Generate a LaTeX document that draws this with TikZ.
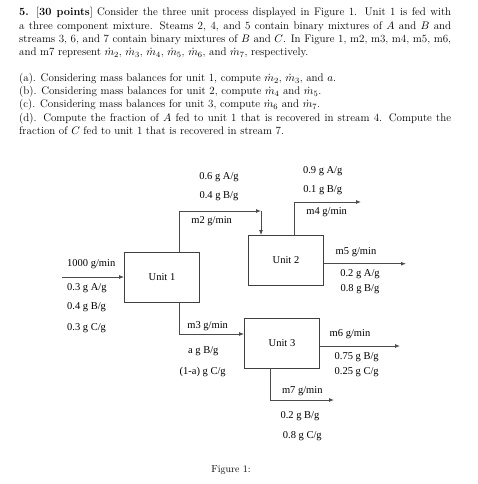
\documentclass[tikz,border=0pt]{standalone}
\usepackage{fontspec}
\newfontfamily\timesfont{Liberation Serif}
\usetikzlibrary{arrows.meta}

\begin{document}
\begin{tikzpicture}[x=1pt,y=-1pt,
    unitbox/.style={draw=black!75,line width=0.8pt,minimum width=75pt,minimum height=50pt,font=\timesfont\fontsize{10.5}{12}\selectfont},
    stream/.style={draw=black!70,line width=0.9pt,-{Latex[length=5pt,width=4pt]}},
    lbl/.style={font=\timesfont\fontsize{10.5}{12}\selectfont,inner sep=0pt}]
    \useasboundingbox (0,0) rectangle (477,484);

    \node[anchor=base west,inner sep=0pt,text width=432pt,align=justify,
          font=\fontsize{11}{13.2}\selectfont] (intro) at (19,16)
        {\textbf{5.} [\textbf{30 points}] Consider the three unit process displayed in Figure 1. Unit 1 is fed with
        a three component mixture. Steams 2, 4, and 5 contain binary mixtures of $A$ and $B$ and
        streams 3, 6, and 7 contain binary mixtures of $B$ and $C$. In Figure 1, m2, m3, m4, m5, m6,
        and m7 represent $\dot m_2$, $\dot m_3$, $\dot m_4$, $\dot m_5$, $\dot m_6$, and $\dot m_7$, respectively.};

    \node[anchor=base west,inner sep=0pt,text width=432pt,align=justify,
          font=\fontsize{11}{13.2}\selectfont] (parts) at (19,81.5)
        {(a). Considering mass balances for unit 1, compute $\dot m_2$, $\dot m_3$, and $a$.\par
        (b). Considering mass balances for unit 2, compute $\dot m_4$ and $\dot m_5$.\par
        (c). Considering mass balances for unit 3, compute $\dot m_6$ and $\dot m_7$.\par
        (d). Compute the fraction of $A$ fed to unit 1 that is recovered in stream 4. Compute the
        fraction of $C$ fed to unit 1 that is recovered in stream 7.};

    \node[unitbox] (u1) at (162,277) {Unit 1};
    \node[unitbox] (u2) at (286,260.5) {Unit 2};
    \node[unitbox] (u3) at (282,343) {Unit 3};

    \coordinate (feed) at (62,277);
    \coordinate (s2a) at (179,211);
    \coordinate (s2b) at (261,211);
    \coordinate (s3a) at (179,334);
    \coordinate (s4a) at (294,202);
    \coordinate (s4b) at (361,202);
    \coordinate (s5b) at (406,263.7);
    \coordinate (s6b) at (400,346);
    \coordinate (s7a) at (270,400);
    \coordinate (s7b) at (334,400);

    \draw[stream] (feed) -- (u1.west);
    \draw[stream] (s2a |- u1.north) -- (s2a) -- (s2b);
    \draw[stream] (s2b) -- (s2b |- u2.north);
    \draw[stream] (s3a |- u1.south) -- (s3a) -- (s3a -| u3.west);
    \draw[stream] (s4a |- u2.north) -- (s4a) -- (s4b);
    \draw[stream] (u2.east |- s5b) -- (s5b);
    \draw[stream] (u3.east |- s6b) -- (s6b);
    \draw[stream] (s7a |- u3.south) -- (s7a) -- (s7b);

    \node[lbl,anchor=west] (feedm) at (67,264) {1000 g/min};
    \node[lbl,anchor=west] (feedA) at (67,288) {0.3 g A/g};
    \node[lbl,anchor=west] (feedB) at (67,307) {0.4 g B/g};
    \node[lbl,anchor=west] (feedC) at (67,328) {0.3 g C/g};

    \node[lbl] (s2A) at (219,176.7) {0.6 g A/g};
    \node[lbl] (s2B) at (219,196) {0.4 g B/g};
    \node[lbl] (s2m) at (211.7,221) {m2 g/min};

    \node[lbl] (s4A) at (322.7,171) {0.9 g A/g};
    \node[lbl] (s4B) at (322.7,190) {0.1 g B/g};
    \node[lbl] (s4m) at (326.7,212.3) {m4 g/min};

    \node[lbl] (s5m) at (356,251.7) {m5 g/min};
    \node[lbl] (s5A) at (360,274) {0.2 g A/g};
    \node[lbl] (s5B) at (360,289) {0.8 g B/g};

    \node[lbl] (s3m) at (207.7,325.7) {m3 g/min};
    \node[lbl] (s3B) at (203.3,351) {a g B/g};
    \node[lbl] (s3C) at (202.7,371.7) {(1-a) g C/g};

    \node[lbl] (s6m) at (350,334.3) {m6 g/min};
    \node[lbl] (s6B) at (356.7,356.7) {0.75 g B/g};
    \node[lbl] (s6C) at (356.7,371.7) {0.25 g C/g};

    \node[lbl] (s7m) at (302.3,390.7) {m7 g/min};
    \node[lbl] (s7B) at (300,416) {0.2 g B/g};
    \node[lbl] (s7C) at (302.3,436) {0.8 g C/g};

    \node[inner sep=0pt,font=\fontsize{10}{12}\selectfont] (cap) at (231,470) {Figure 1:};
\end{tikzpicture}
\end{document}
